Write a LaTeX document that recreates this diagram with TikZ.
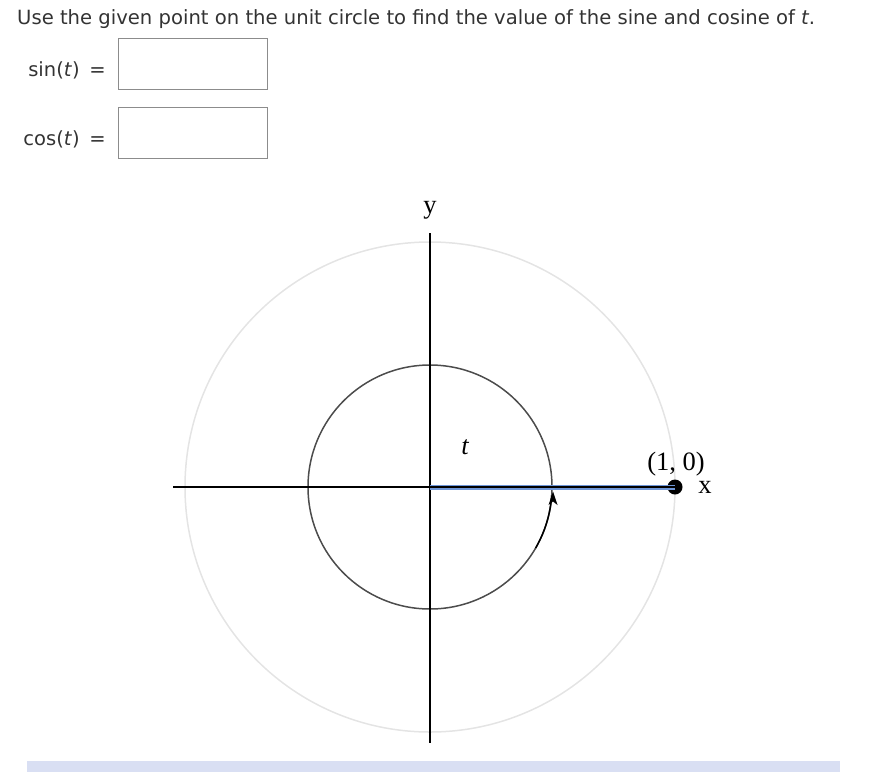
\documentclass[tikz,border=0pt]{standalone}
\usepackage{fontspec}
\setmainfont{DejaVu Sans}
\newfontfamily\plotfont{Liberation Serif}
\definecolor{txtgray}{RGB}{51,51,51}
\definecolor{boxgray}{RGB}{140,140,140}
\definecolor{ringgray}{RGB}{228,228,228}
\definecolor{halo}{RGB}{110,150,215}
\definecolor{barblue}{RGB}{217,223,243}

\begin{document}
\begin{tikzpicture}[x=1pt,y=-1pt,
    ans box/.style={draw=boxgray,line width=0.9pt,minimum width=149pt,minimum height=51pt,inner sep=0pt},
    ans label/.style={anchor=base east,text=txtgray,font=\fontsize{19.5}{23}\selectfont,inner sep=0pt},
    plot label/.style={font=\plotfont\fontsize{26.5}{30}\selectfont,inner sep=0pt}]
\useasboundingbox (0,0) rectangle (892,772);
\node[anchor=base west,text=txtgray,font=\fontsize{19.6}{23}\selectfont,inner sep=0pt] (question) at (17,24)
    {Use the given point on the unit circle to find the value of the sine and cosine of \textit{t}.};
\node[ans box] (sinbox) at (192.5,63.5) {};
\node[ans box] (cosbox) at (192.5,132.5) {};
\node[ans label] (sinlabel) at (106,76) {sin(\textit{t})\enspace=};
\node[ans label] (coslabel) at (106,145) {cos(\textit{t})\enspace=};

% unit circle
\begin{scope}[line width=1.5pt]
\coordinate (O) at (430,487);
\coordinate (xleft) at (173,487);
\coordinate (ytop) at (430,233);
\coordinate (ybot) at (430,743);
\draw[ringgray] (O) circle (245);
\draw[black!70] (O) circle (122);
\draw (xleft) -- (O);
\draw (ytop) -- (ybot);
\node[circle,fill=black,inner sep=0pt,minimum size=15pt] (P) at (675,487) {};
\draw[halo,line width=5pt] (O) -- (P.center);
\draw (O) -- (P.center);
\draw (O) ++(30:122) arc (30:4:122);
% arrow head on the arc
\fill (553,491.5) -- (557.5,505) -- (553,501.5) -- (548.5,505) -- cycle;
\end{scope}
\node[plot label] (ylabel) at (430,210) {y};
\node[plot label] (tlabel) at (465,447) {\itshape t};
\node[plot label] (plabel) at (676,464) {(1, 0)};
\node[plot label] (xlabel) at (705,487) {x};

\fill[barblue] (27,761) rectangle (840,772);
\end{tikzpicture}
\end{document}
